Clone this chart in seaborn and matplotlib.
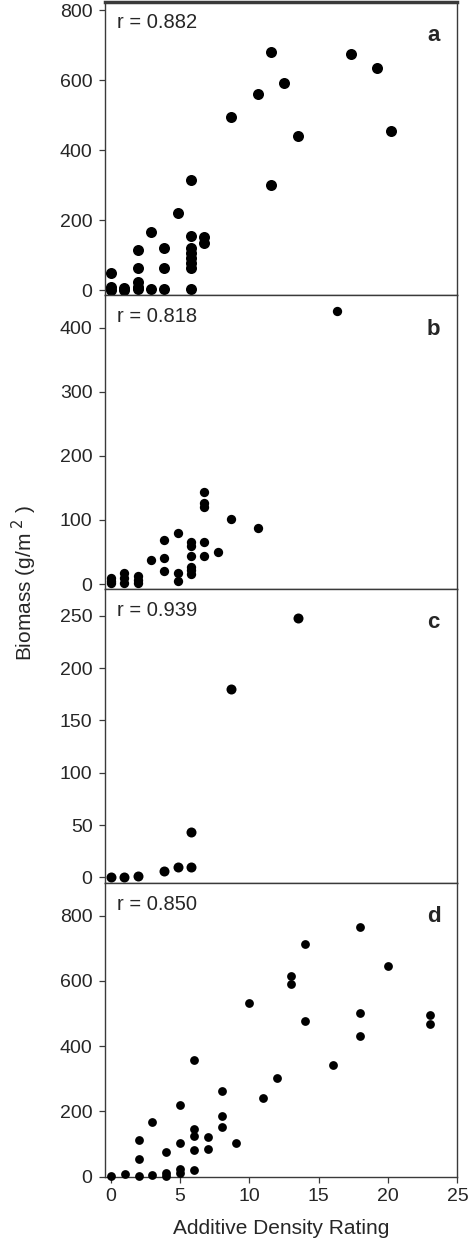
"""
Biomass vs additive density rating, four stacked panels (a-d).
"""

import matplotlib
matplotlib.use("Agg")
import matplotlib.pyplot as plt
import pandas as pd
import seaborn as sns


# panel a
a_x = [0, 0, 0, 1, 1, 2, 2, 2, 2, 2, 3, 3, 4, 4, 4, 5,
       6, 6, 6, 6, 6, 6, 6, 6, 7, 7, 9, 11, 12, 12, 13, 14, 18, 20, 21]
a_y = [50, 10, 1, 8, 1, 114, 64, 24, 10, 3, 166, 4, 121, 65, 4, 221,
       315, 156, 121, 107, 93, 79, 65, 4, 152, 135, 494, 560, 681, 301, 591, 441, 674, 636, 456]

# panel b
b_x = [0, 0, 0, 1, 1, 1, 2, 2, 2, 3, 4, 4, 4, 5, 5, 5,
       6, 6, 6, 6, 6, 6, 7, 7, 7, 7, 7, 8, 9, 11, 17]
b_y = [9, 4, 1, 17, 9, 2, 12, 7, 2, 37, 68, 40, 20, 79, 17, 4,
       65, 59, 44, 26, 22, 16, 143, 127, 121, 66, 43, 50, 102, 88, 426]

# panel c
c_x = [0, 1, 2, 4, 5, 6, 6, 9, 14]
c_y = [0, 0.5, 1.5, 6, 10, 10, 43, 180, 248]

# panel d
d_x = [0, 1, 2, 2, 2, 3, 3, 4, 4, 4, 5, 5, 5, 5, 6, 6, 6, 6, 6,
       7, 7, 8, 8, 8, 9, 10, 11, 12, 13, 13, 14, 14, 16, 18, 18, 18, 20, 23, 23]
d_y = [1, 8, 113, 54, 3, 167, 6, 76, 13, 1, 221, 103, 23, 12, 359, 145, 126, 82, 20,
       123, 85, 263, 187, 153, 103, 533, 240, 304, 616, 590, 712, 477, 342, 765, 502, 432, 645, 496, 469]

r_labels = ["r = 0.882", "r = 0.818", "r = 0.939", "r = 0.850"]
panel_letters = ["a", "b", "c", "d"]
y_ticks = [[0, 200, 400, 600, 800], [0, 100, 200, 300, 400],
           [0, 50, 100, 150, 200, 250], [0, 200, 400, 600, 800]]
x_ticks = [0, 5, 10, 15, 20, 25]


def main() -> int:
    sns.set_style("ticks")
    plt.rcParams["font.family"] = ["Liberation Sans", "DejaVu Sans"]
    plt.rcParams["font.size"] = 14

    fig, axes = plt.subplots(4, 1, figsize=(4.74, 12.56), dpi=100)
    fig.subplots_adjust(left=0.2215, right=0.965, top=0.9988, bottom=0.0631, hspace=0)

    panels = [(a_x, a_y, 63), (b_x, b_y, 45), (c_x, c_y, 52), (d_x, d_y, 40)]
    ylims = [(-14, 825), (-8, 451), (-5.4, 275.6), (0, 900)]
    xlims = [(-0.45, 26), (-0.45, 26), (-0.45, 26), (-0.42, 25)]

    for i, ax in enumerate(axes):
        xs, ys, size = panels[i]
        df = pd.DataFrame({"x": xs, "y": ys})
        sns.scatterplot(data=df, x="x", y="y", ax=ax, color="black",
                        s=size, linewidth=0, clip_on=(i != 3), zorder=3)
        ax.set_xlim(*xlims[i])
        ax.set_ylim(*ylims[i])
        ax.set_xticks(x_ticks)
        ax.set_yticks(y_ticks[i])
        ax.set_xlabel("")
        ax.set_ylabel("")
        if i < 3:
            ax.set_xticklabels([])
        for side in ["top", "right", "bottom", "left"]:
            ax.spines[side].set_visible(True)
            ax.spines[side].set_color("#3a3a3a")
            ax.spines[side].set_linewidth(1.0)
        ax.tick_params(axis="both", direction="out", length=4, width=0.9,
                       color="#3a3a3a", labelsize=14, pad=5)
        ax.tick_params(axis="x", pad=4)
        ax.text(0.033, 0.927, r_labels[i], transform=ax.transAxes,
                ha="left", va="center", fontsize=14.5)
        ax.text(0.933, 0.885, panel_letters[i], transform=ax.transAxes,
                ha="center", va="center", fontsize=16, fontweight="bold")

    axes[0].spines["top"].set_linewidth(2.5)

    fig.text(0.052, 0.536, "Biomass (g/m$^{\\ 2}$ )", rotation=90,
             ha="center", va="center", fontsize=15)
    fig.text(0.593, 0.0215, "Additive Density Rating", ha="center", va="center", fontsize=15)

    fig.savefig("out.png", dpi=100)
    plt.close(fig)
    return 0


if __name__ == "__main__":
    raise SystemExit(main())
